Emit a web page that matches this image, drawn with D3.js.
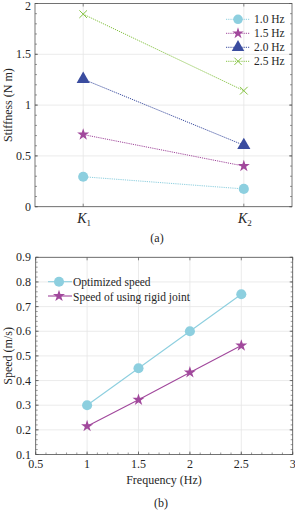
<!DOCTYPE html>
<html>
<head>
<meta charset="utf-8">
<script src="https://cdn.jsdelivr.net/npm/d3@7"></script>
<style>
body { margin: 0; background: #fff; }
svg text { font-family: "Liberation Serif", "DejaVu Serif", serif; fill: #262626; }
</style>
</head>
<body>
<div id="chart"></div>
<script>
var w = 295;
var h = 511;

// (a) stiffness per joint for each frequency
var joints = ["K1", "K2"];
var freqNames = ["1.0 Hz", "1.5 Hz", "2.0 Hz", "2.5 Hz"];
var stiff10 = [0.295, 0.175];
var stiff15 = [0.71, 0.40];
var stiff20 = [1.255, 0.605];
var stiff25 = [1.895, 1.142];
var stiffTicks = [0, 0.5, 1, 1.5, 2];

// (b) speed vs frequency
var freqs = [1, 1.5, 2, 2.5];
var optSpeed = [0.30, 0.45, 0.60, 0.75];
var rigidSpeed = [0.215, 0.322, 0.433, 0.542];
var speedNames = ["Optimized speed", "Speed of using rigid joint"];
var freqTicks = [0.5, 1, 1.5, 2, 2.5, 3];
var speedTicks = [0.1, 0.2, 0.3, 0.4, 0.5, 0.6, 0.7, 0.8, 0.9];

var colors = ["#8dcfdf", "#a1489c", "#3a4c9f", "#86c343"];
var shapes = [d3.symbolCircle, d3.symbolStar, d3.symbolTriangle, d3.symbolX];
var sizes = [80, 45, 75, 40];

var svg = d3.select("#chart").append("svg")
    .attr("width", w)
    .attr("height", h)
    .attr("font-family", "Liberation Serif, serif");

function drawFrame(g, x, y, xt, yt, xMinor, yMinor) {
    var x0 = x.range()[0], x1 = x.range()[1];
    var y0 = y.range()[0], y1 = y.range()[1];
    // grid
    g.selectAll(".gx").data(xt).enter().append("line")
        .attr("x1", d => x(d)).attr("x2", d => x(d))
        .attr("y1", y0).attr("y2", y1)
        .attr("stroke", "#e6e6e6").attr("stroke-width", 0.8);
    g.selectAll(".gy").data(yt).enter().append("line")
        .attr("x1", x0).attr("x2", x1)
        .attr("y1", d => y(d)).attr("y2", d => y(d))
        .attr("stroke", "#e6e6e6").attr("stroke-width", 0.8);
    // minor ticks
    g.selectAll(".mx").data(xMinor).enter().append("line")
        .attr("x1", d => x(d)).attr("x2", d => x(d))
        .attr("y1", y0).attr("y2", y0 - 2)
        .attr("stroke", "#555").attr("stroke-width", 0.6);
    g.selectAll(".my").data(yMinor).enter().append("line")
        .attr("x1", x0).attr("x2", x0 + 2)
        .attr("y1", d => y(d)).attr("y2", d => y(d))
        .attr("stroke", "#555").attr("stroke-width", 0.6);
    g.selectAll(".my2").data(yMinor).enter().append("line")
        .attr("x1", x1).attr("x2", x1 - 2)
        .attr("y1", d => y(d)).attr("y2", d => y(d))
        .attr("stroke", "#555").attr("stroke-width", 0.6);
    // major ticks
    g.selectAll(".tx").data(xt).enter().append("line")
        .attr("x1", d => x(d)).attr("x2", d => x(d))
        .attr("y1", y0).attr("y2", y0 - 3)
        .attr("stroke", "#555").attr("stroke-width", 0.7);
    g.selectAll(".tx2").data(xt).enter().append("line")
        .attr("x1", d => x(d)).attr("x2", d => x(d))
        .attr("y1", y1).attr("y2", y1 + 3)
        .attr("stroke", "#555").attr("stroke-width", 0.7);
    g.selectAll(".ty").data(yt).enter().append("line")
        .attr("x1", x0).attr("x2", x0 + 3)
        .attr("y1", d => y(d)).attr("y2", d => y(d))
        .attr("stroke", "#555").attr("stroke-width", 0.7);
    g.selectAll(".ty2").data(yt).enter().append("line")
        .attr("x1", x1).attr("x2", x1 - 3)
        .attr("y1", d => y(d)).attr("y2", d => y(d))
        .attr("stroke", "#555").attr("stroke-width", 0.7);
    g.append("rect")
        .attr("x", x0).attr("y", y1)
        .attr("width", x1 - x0).attr("height", y0 - y1)
        .attr("fill", "none").attr("stroke", "#555").attr("stroke-width", 0.8);
}

function marker(sel, i, scale) {
    var sym = d3.symbol().type(shapes[i]).size(sizes[i] * (scale || 1));
    if (shapes[i] === d3.symbolX) {
        sel.append("path").attr("d", sym())
            .attr("fill", "none").attr("stroke", colors[i]).attr("stroke-width", 1);
    } else {
        sel.append("path").attr("d", sym()).attr("fill", colors[i]);
    }
}

// ---------- chart (a) ----------
var xa = d3.scaleLinear().domain([0.7, 2.3]).range([35, 292]);
var ya = d3.scaleLinear().domain([0, 2]).range([206.7, 3.5]);
var ga = svg.append("g");
drawFrame(ga, xa, ya, [1, 2], stiffTicks, [], d3.range(0, 2.01, 0.1));

ga.selectAll(".yl").data(stiffTicks).enter().append("text")
    .attr("x", 31).attr("y", d => Math.max(ya(d) + 4, 10))
    .attr("text-anchor", "end").attr("font-size", 12)
    .text(d => d);

joints.forEach(function (k, i) {
    var t = ga.append("text")
        .attr("x", xa(i + 1) + 1).attr("y", 223)
        .attr("text-anchor", "middle").attr("font-size", 14);
    t.append("tspan").attr("font-style", "italic").text(k[0]);
    t.append("tspan").attr("font-size", 9).attr("dy", 2.5).text(k.slice(1));
});

ga.append("text")
    .attr("transform", "translate(12," + ya(1) + ") rotate(-90)")
    .attr("text-anchor", "middle").attr("font-size", 12)
    .text("Stiffness (N m)");

ga.append("text")
    .attr("x", 157).attr("y", 242)
    .attr("text-anchor", "middle").attr("font-size", 12)
    .text("(a)");

var stiffSeries = [stiff10, stiff15, stiff20, stiff25];
var lineA = d3.line().x((d, j) => xa(j + 1)).y(d => ya(d));
stiffSeries.forEach(function (s, i) {
    ga.append("path").datum(s)
        .attr("d", lineA)
        .attr("fill", "none").attr("stroke", colors[i])
        .attr("stroke-width", 1).attr("stroke-dasharray", "1.2,1");
    s.forEach(function (v, j) {
        var m = ga.append("g").attr("transform", "translate(" + xa(j + 1) + "," + ya(v) + ")");
        marker(m, i);
    });
});

// legend (a)
freqNames.forEach(function (name, i) {
    var ly = 19.3 + i * 14;
    var lg = ga.append("g").attr("transform", "translate(226," + ly + ")");
    lg.append("line").attr("x1", 0).attr("x2", 24)
        .attr("stroke", colors[i]).attr("stroke-width", 1).attr("stroke-dasharray", "1.2,1");
    var m = lg.append("g").attr("transform", "translate(12,0)");
    marker(m, i, 0.9);
    lg.append("text").attr("x", 28).attr("y", 4)
        .attr("font-size", 11.5).text(name);
});

// ---------- chart (b) ----------
var xb = d3.scaleLinear().domain([0.5, 3]).range([35.7, 292.7]);
var yb = d3.scaleLinear().domain([0.1, 0.9]).range([454.5, 257.3]);
var gb = svg.append("g");
drawFrame(gb, xb, yb, freqTicks, speedTicks, d3.range(0.5, 3.01, 0.1), d3.range(0.1, 0.901, 0.02));

gb.selectAll(".yl").data(speedTicks).enter().append("text")
    .attr("x", 31).attr("y", d => yb(d) + 4)
    .attr("text-anchor", "end").attr("font-size", 12)
    .text(d => d);
gb.selectAll(".xl").data(freqTicks).enter().append("text")
    .attr("x", d => xb(d)).attr("y", 468)
    .attr("text-anchor", "middle").attr("font-size", 12)
    .text(d => d);

gb.append("text")
    .attr("transform", "translate(12," + yb(0.5) + ") rotate(-90)")
    .attr("text-anchor", "middle").attr("font-size", 12)
    .text("Speed (m/s)");
gb.append("text")
    .attr("x", 164).attr("y", 484)
    .attr("text-anchor", "middle").attr("font-size", 12)
    .text("Frequency (Hz)");
gb.append("text")
    .attr("x", 161).attr("y", 507)
    .attr("text-anchor", "middle").attr("font-size", 12)
    .text("(b)");

var speedSeries = [optSpeed, rigidSpeed];
var lineB = d3.line().x((d, j) => xb(freqs[j])).y(d => yb(d));
speedSeries.forEach(function (s, i) {
    gb.append("path").datum(s)
        .attr("d", lineB)
        .attr("fill", "none").attr("stroke", colors[i]).attr("stroke-width", 1.1);
    s.forEach(function (v, j) {
        var m = gb.append("g").attr("transform", "translate(" + xb(freqs[j]) + "," + yb(v) + ")");
        marker(m, i);
    });
});

speedNames.forEach(function (name, i) {
    var ly = 281.7 + i * 14.3;
    var lg = gb.append("g").attr("transform", "translate(48," + ly + ")");
    lg.append("line").attr("x1", 0).attr("x2", 24)
        .attr("stroke", colors[i]).attr("stroke-width", 1.1);
    var m = lg.append("g").attr("transform", "translate(11,0)");
    marker(m, i);
    lg.append("text").attr("x", 25).attr("y", 4.5)
        .attr("font-size", 11.5).text(name);
});
</script>
</body>
</html>
